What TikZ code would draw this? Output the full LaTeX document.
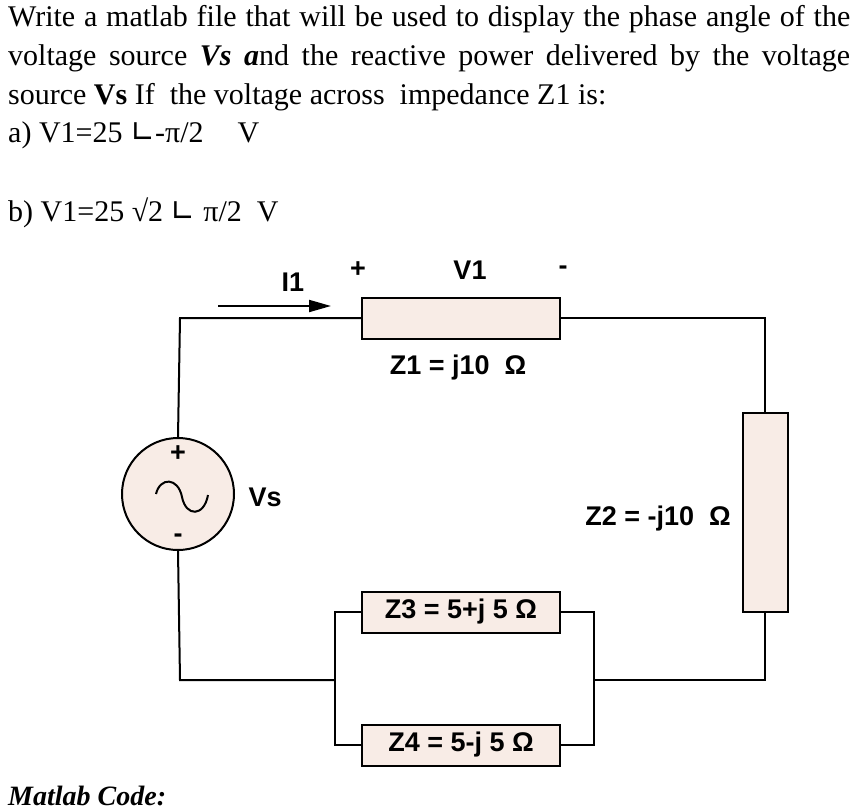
\documentclass[tikz,border=0pt]{standalone}
\usepackage{fontspec}
\setmainfont{Liberation Serif}
\setsansfont{Liberation Sans}
\newfontfamily\symfont{DejaVu Sans}
\usetikzlibrary{arrows.meta}
\definecolor{boxfill}{RGB}{248,236,230}
\newcommand{\ang}{{\symfont\char"221F}}
\tikzset{
  line/.style = {line width=2pt},
  imp/.style  = {draw, line width=2pt, fill=boxfill, minimum width=198pt, minimum height=41pt, font=\sffamily\bfseries\fontsize{27}{30}\selectfont},
  lbl/.style  = {font=\sffamily\bfseries\fontsize{27}{30}\selectfont},
  txt/.style  = {anchor=base west, inner sep=0pt, font=\fontsize{30}{34}\selectfont}
}
\begin{document}
\begin{tikzpicture}[x=1pt, y=-1pt]
    \useasboundingbox (0,0) rectangle (857,811);
    % question text
    \node[txt] (l1) at (8,26) {\makebox[842pt][s]{Write a matlab file that will be used to display the phase angle of the}};
    \node[txt] (l2) at (8,65) {\makebox[842pt][s]{voltage source \textbf{\textit{Vs}} \textit{\textbf{a}}nd the reactive power delivered by the voltage}};
    \node[txt] (l3) at (8,104) {source \textbf{Vs} If~ the voltage across~ impedance Z1 is:};
    \node[txt] (l4) at (8,142) {a) V1=25 \ang-π/2\hspace{34pt}V};
    \node[txt] (l5) at (8,221) {b) V1=25 √2 \ang\ π/2~ V};
    \node[txt, font=\fontsize{28}{32}\selectfont\bfseries\itshape] (code) at (8,805) {Matlab Code:};

    % impedances
    \node[imp] (z1) at (461,318) {};
    \node[imp] (z3) at (461,612) {Z3 = 5+j 5 Ω};
    \node[imp] (z4) at (461,745) {Z4 = 5-j 5 Ω};
    \node[imp, minimum width=45pt, minimum height=199pt] (z2) at (765,512) {};

    % source
    \node[draw, line width=2pt, circle, fill=boxfill, minimum size=112pt] (vs) at (178,494) {};
    \draw[line width=2pt] (156,494) .. controls (160,477) and (178,477) .. (182,497)
                          .. controls (186,517) and (204,517) .. (208,495);
    \node[lbl] (plus) at (178,454) {+};
    \node[lbl] (minus) at (178,538) {-};
    \node[lbl, anchor=west] (vsl) at (245,497) {Vs};

    % wires
    \coordinate (tl) at (180,318);
    \coordinate (tr) at (765,318);
    \coordinate (bl) at (180,680);
    \coordinate (br) at (765,680);
    \coordinate (pl) at (335,680);
    \coordinate (pr) at (594,680);
    \draw[line] (vs.north) -- (tl) -- (z1.west);
    \draw[line] (z1.east) -- (tr) -- (z2.north);
    \draw[line] (z2.south) -- (br) -- (pr);
    \draw[line] (vs.south) -- (bl) -- (pl);
    \draw[line] (z3.west) -| (pl) |- (z4.west);
    \draw[line] (z3.east) -| (pr) |- (z4.east);

    % labels
    \coordinate (ia) at (218,306);
    \coordinate (ib) at (331,306);
    \draw[line, -{Triangle[length=22pt, width=12pt]}] (ia) -- (ib);
    \node[lbl] (i1) at (293,282) {I1};
    \node[lbl] (vp) at (358,270) {+};
    \node[lbl] (v1) at (470,270) {V1};
    \node[lbl] (vm) at (563,270) {-};
    \node[lbl] (z1l) at (458,368) {Z1 = j10~ Ω};
    \node[lbl] (z2l) at (658,519) {Z2 = -j10~ Ω};
\end{tikzpicture}
\end{document}
